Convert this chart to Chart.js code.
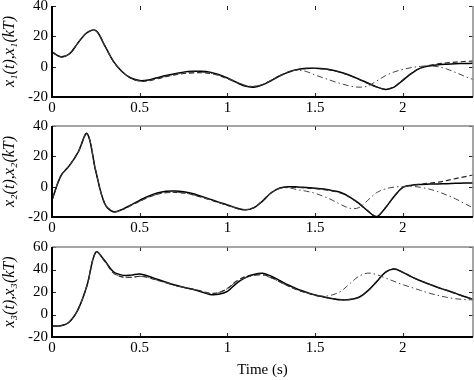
<!DOCTYPE html>
<html>
<head>
<meta charset="utf-8">
<script src="https://cdn.jsdelivr.net/npm/chart.js@4"></script>
<style>
    html, body { margin: 0; padding: 0; background: #fff; }
    #wrap { position: relative; width: 474px; height: 380px; }
    canvas { position: absolute; left: 0; }
</style>
</head>
<body>
<div id="wrap">
    <canvas id="c1" width="474" height="120" style="top:0"></canvas>
    <canvas id="c2" width="474" height="120" style="top:120px"></canvas>
    <canvas id="c3" width="474" height="140" style="top:240px"></canvas>
</div>
<script>
// Time samples (s)
const time = [0, 0.05, 0.1, 0.15, 0.2, 0.25, 0.3, 0.35, 0.4, 0.45,
    0.5, 0.55, 0.6, 0.65, 0.7, 0.75, 0.8, 0.85, 0.9, 0.95,
    1.0, 1.05, 1.1, 1.15, 1.2, 1.25, 1.3, 1.35, 1.4, 1.45,
    1.5, 1.55, 1.6, 1.65, 1.7, 1.75, 1.8, 1.85, 1.9, 1.95,
    2.0, 2.05, 2.1, 2.15, 2.2, 2.25, 2.3, 2.35, 2.4];

const xTicks = [0, 0.5, 1, 1.5, 2];

// x1
const x1Solid = [9.7, 6.5, 8.5, 16, 22.5, 23.8, 14, 3.5, -3.3, -7.5,
    -9.2, -8.8, -7.3, -5.8, -4.6, -3.6, -3.1, -3.0, -3.6, -5.2,
    -7.5, -10.2, -12.8, -13.5, -12, -9.2, -6, -3.5, -1.9, -1.1,
    -1.0, -1.3, -2.3, -3.8, -5.8, -8.2, -10.8, -13.3, -15, -13.5,
    -9, -4.5, -1, 0.5, 1.2, 1.6, 1.9, 2.1, 2.2];
const x1Dashed = [9.7, 6.5, 8.5, 16, 22.5, 23.8, 14, 3.5, -3.3, -7.6,
    -9.5, -9.3, -8, -6.6, -5.4, -4.5, -4.1, -4.0, -4.4, -5.8,
    -7.9, -10.4, -12.7, -13.2, -11.8, -9, -5.9, -3.5, -2, -1.3,
    -1.2, -1.5, -2.5, -4, -6, -8.4, -11, -13.4, -14.8, -13.2,
    -8.8, -4.3, -0.8, 0.9, 1.8, 2.5, 3, 3.4, 3.7];
const x1DashDot = [9.7, 6.5, 8.5, 16, 22.5, 23.8, 14, 3.5, -3.3, -7.6,
    -9.5, -9.2, -7.8, -6.3, -5.1, -4.1, -3.6, -3.6, -4.2, -5.6,
    -7.6, -10, -12.2, -12.9, -11.6, -8.8, -5.8, -3.3, -2.3, -3.2,
    -5.5, -7.5, -9.5, -11.3, -12.8, -13.5, -12.8, -9.5, -6, -3.5,
    -1.8, -0.6, 0.2, 0.5, 0, -1.5, -3.8, -6.2, -8.5];

// x2
const x2Solid = [-8.8, 7, 14, 23, 35, 10, -11, -16.5, -15, -12,
    -9, -6.2, -4.2, -3, -2.8, -3.3, -4.5, -6.3, -8.2, -10.2,
    -12, -14, -15.3, -14, -9.5, -4, -0.8, 0, -0.2, -0.6,
    -1, -1.6, -2.6, -4, -7, -11, -16, -19.8, -14, -6.5,
    -0.5, 1, 1.5, 1.7, 1.8, 2, 2.2, 2.4, 2.5];
const x2Dashed = [-8.8, 7, 14, 23, 35, 10, -11, -16.5, -15.2, -12.4,
    -9.6, -7, -5, -3.9, -3.7, -4.1, -5.2, -6.8, -8.6, -10.5,
    -12.3, -14.2, -15.2, -13.8, -9.3, -4, -1, -0.3, -0.5, -0.9,
    -1.3, -1.9, -2.9, -4.3, -7.2, -11.2, -16, -19.5, -14, -6.6,
    -0.6, 0.9, 1.6, 2.3, 3, 4, 5.3, 6.5, 7.7];
const x2DashDot = [-8.8, 7, 14, 23, 35, 10, -11, -16.5, -15.2, -12.4,
    -9.6, -7, -5, -3.9, -3.7, -4.1, -5.2, -6.8, -8.6, -10.5,
    -12.3, -14.2, -15.2, -13.8, -9.3, -4, -1.2, -0.8, -2, -3,
    -4.4, -6.5, -9, -12, -14.3, -13.8, -9, -4, -1.5, -0.3,
    0, 0.2, -0.4, -1.6, -3.3, -5.5, -8, -11, -14];

// x3
const x3Solid = [-10.2, -10, -6.4, 5, 26, 55.5, 48, 38, 35, 35,
    36, 34, 31.3, 28.7, 26.2, 24.2, 22.4, 20.3, 17.8, 18,
    20.5, 27.5, 32.5, 35.5, 36.6, 34, 30, 26, 22.5, 19.8,
    17.3, 15.5, 14, 13, 13.3, 15.3, 21, 29, 37.5, 40.5,
    37.5, 33.5, 30, 27, 24, 21.5, 18.8, 16, 13.5];
const x3Dashed = [-10.2, -10, -6.4, 5, 26, 55.5, 47.5, 37, 33.5, 33,
    34, 32.8, 30.5, 28.2, 26, 24.2, 22.6, 20.8, 18.8, 19.5,
    23, 29.5, 33.5, 35.5, 35.6, 32.8, 29, 25.2, 21.8, 19.3,
    17, 15.5, 14.2, 13.3, 13.4, 15.3, 21, 29, 37.5, 40.5,
    37.5, 33.5, 30, 27, 24, 21.5, 18.8, 16, 13.5];
const x3DashDot = [-10.2, -10, -6.4, 5, 26, 55.5, 47.5, 37, 33.5, 33,
    34, 32.8, 30.5, 28.2, 26, 24.2, 22.6, 20.8, 18.8, 19.5,
    23, 29, 32.5, 34.5, 35, 32.5, 28.8, 25, 21.8, 19.3,
    17.3, 16.3, 17.5, 21, 27.7, 34, 36.8, 35.5, 32.5, 29.5,
    26.5, 24, 21.5, 19, 17, 15.3, 14, 13.3, 13];

const serif = '"Liberation Serif", "DejaVu Serif", serif';

// Box with inward tick marks, MATLAB style
const boxPlugin = {
    id: 'matlabBox',
    afterDraw(chart, args, opts) {
        const { ctx, chartArea: a, scales } = chart;
        const len = 4;
        ctx.save();
        ctx.lineWidth = 1;
        ctx.strokeStyle = '#222';
        scales.x.ticks.forEach(t => {
            const px = Math.round(scales.x.getPixelForValue(t.value)) + 0.5;
            ctx.beginPath();
            ctx.moveTo(px, a.bottom); ctx.lineTo(px, a.bottom - len);
            ctx.moveTo(px, a.top); ctx.lineTo(px, a.top + len);
            ctx.stroke();
        });
        scales.y.ticks.forEach(t => {
            const py = Math.round(scales.y.getPixelForValue(t.value)) + 0.5;
            ctx.beginPath();
            ctx.moveTo(a.left, py); ctx.lineTo(a.left + len, py);
            ctx.moveTo(a.right, py); ctx.lineTo(a.right - len, py);
            ctx.stroke();
        });
        // right and top edges (lighter)
        ctx.strokeStyle = '#888';
        ctx.lineWidth = 1.5;
        ctx.beginPath();
        ctx.moveTo(a.right, a.bottom); ctx.lineTo(a.right, a.top);
        if (opts.top) ctx.lineTo(a.left, a.top);
        ctx.stroke();
        // left and bottom axes
        ctx.strokeStyle = '#000';
        ctx.lineWidth = 2;
        ctx.beginPath();
        ctx.moveTo(a.left, a.top); ctx.lineTo(a.left, a.bottom); ctx.lineTo(a.right, a.bottom);
        ctx.stroke();
        ctx.restore();
    }
};

function makeChart(id, solid, dashed, dashDot, yMin, yMax, yLabel, opts) {
    const pts = arr => time.map((t, i) => ({ x: t, y: arr[i] }));
    return new Chart(document.getElementById(id), {
        type: 'line',
        data: {
            datasets: [
                { data: pts(dashDot), borderColor: '#444', borderWidth: 1, borderDash: [6, 3, 1.5, 3] },
                { data: pts(dashed), borderColor: '#222', borderWidth: 1.2, borderDash: [5, 3] },
                { data: pts(solid), borderColor: '#000', borderWidth: 1.5 }
            ]
        },
        options: {
            responsive: false,
            animation: false,
            devicePixelRatio: 1,
            layout: { padding: { top: opts.padTop, right: 1, left: 0, bottom: 0 } },
            elements: {
                point: { radius: 0 },
                line: { tension: 0.35 }
            },
            plugins: {
                legend: { display: false },
                tooltip: { enabled: false },
                matlabBox: { top: opts.top }
            },
            scales: {
                x: {
                    type: 'linear',
                    min: 0,
                    max: 2.4,
                    grid: { display: false, drawTicks: false },
                    border: { display: false },
                    afterBuildTicks: s => { s.ticks = xTicks.map(v => ({ value: v })); },
                    afterFit: s => { s.height = opts.xHeight; s.paddingLeft = 0; s.paddingRight = 0; },
                    ticks: {
                        color: '#000',
                        padding: 2,
                        maxRotation: 0,
                        callback: v => String(v),
                        font: { family: serif, size: 15 }
                    },
                    title: {
                        display: !!opts.xTitle,
                        text: opts.xTitle || '',
                        color: '#000',
                        padding: { top: 0, bottom: 1 },
                        font: { family: serif, size: 15 }
                    }
                },
                y: {
                    min: yMin,
                    max: yMax,
                    grid: { display: false, drawTicks: false },
                    border: { display: false },
                    afterFit: s => { s.width = 52; s.paddingTop = 0; s.paddingBottom = 0; },
                    ticks: {
                        stepSize: 20,
                        color: '#000',
                        padding: 4,
                        font: { family: serif, size: 15 }
                    },
                    title: {
                        display: true,
                        text: yLabel,
                        color: '#000',
                        padding: { top: 0, bottom: 0 },
                        font: { family: serif, size: 16, style: 'italic' }
                    }
                }
            }
        },
        plugins: [boxPlugin]
    });
}

makeChart('c1', x1Solid, x1Dashed, x1DashDot, -20, 40, 'x\u2081(t),x\u2081(kT)',
    { padTop: 6, xHeight: 23, top: false });
makeChart('c2', x2Solid, x2Dashed, x2DashDot, -20, 40, 'x\u2082(t),x\u2082(kT)',
    { padTop: 6, xHeight: 23, top: true });
makeChart('c3', x3Solid, x3Dashed, x3DashDot, -20, 60, 'x\u2083(t),x\u2083(kT)',
    { padTop: 7, xHeight: 43, top: true, xTitle: 'Time (s)' });
</script>
</body>
</html>
